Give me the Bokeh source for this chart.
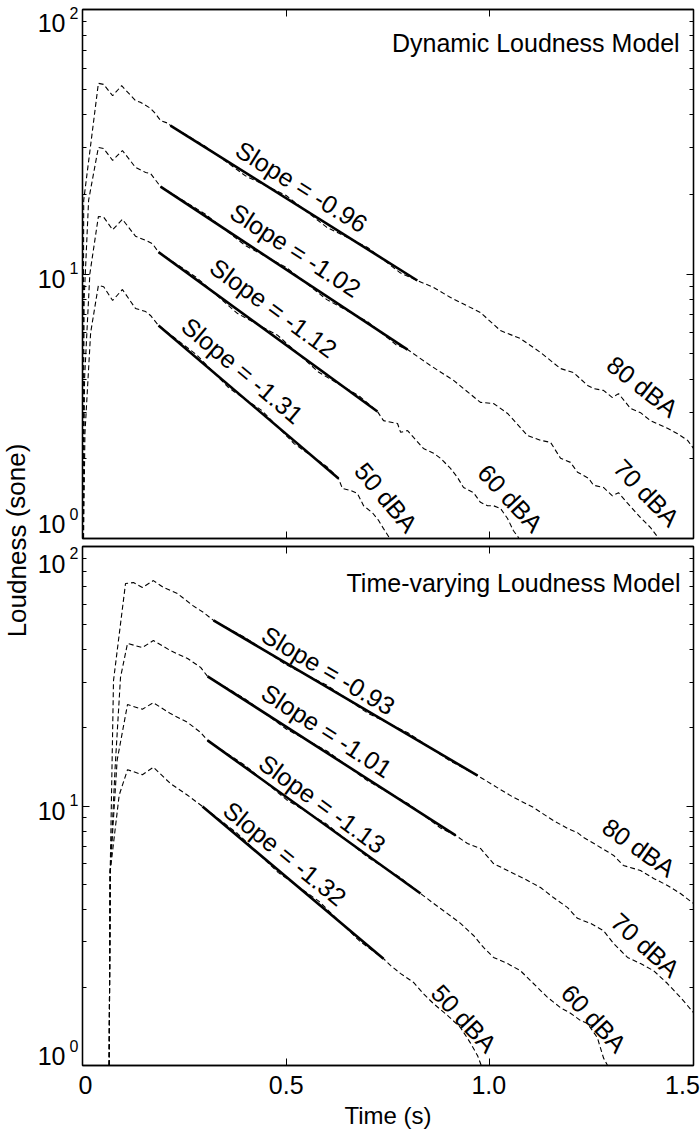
import math
from bokeh.plotting import figure
from bokeh.models import Range1d, FixedTicker, LogAxis, LinearAxis, ColumnDataSource
from bokeh.layouts import row, column
from bokeh.embed import file_html
from bokeh.resources import INLINE
from bokeh.core.properties import value

FONT = "Liberation Sans"

# ---------------- data: Dynamic Loudness Model (top) ----------------
dyn_80_t = [0.000, 0.003, 0.039, 0.052, 0.074, 0.096, 0.130, 0.142, 0.167, 0.179, 0.192, 0.211, 0.216,
            0.30, 0.40, 0.50, 0.60, 0.70, 0.78, 0.822, 0.862, 0.9035, 0.977, 1.026, 1.075, 1.1245, 1.1736,
            1.2055, 1.240, 1.2546, 1.279, 1.301, 1.316, 1.3455, 1.370, 1.3945, 1.436, 1.461, 1.4855, 1.500]
dyn_80_L = [0.5, 19, 52.6, 52.1, 47.2, 51.5, 45.3, 44.6, 42.3, 40.4, 38.0, 37.1, 36.4,
            30.5, 23.5, 19.8, 15.0, 12.6, 10.1, 9.45, 8.89, 8.15, 7.15, 6.11, 5.70, 5.05, 4.39,
            4.24, 3.79, 3.69, 3.63, 3.41, 3.53, 3.10, 2.99, 2.79, 2.61, 2.49, 2.35, 2.19]

dyn_70_t = [0.000, 0.004, 0.015, 0.039, 0.052, 0.074, 0.098, 0.130, 0.155, 0.167, 0.1915,
            0.30, 0.40, 0.50, 0.60, 0.70, 0.77, 0.798, 0.854, 0.911, 0.977, 1.009, 1.0435, 1.0926,
            1.1245, 1.149, 1.1736, 1.198, 1.2153, 1.2423, 1.2546, 1.279, 1.301, 1.316, 1.338, 1.370,
            1.3945, 1.419, 1.432]
dyn_70_L = [0.5, 8, 19, 30.1, 29.8, 26.9, 29.3, 25.3, 24.2, 24.0, 21.4,
            16.9, 12.8, 10.6, 8.0, 6.6, 5.4, 5.18, 4.51, 3.96, 3.27, 3.24, 2.97, 2.45,
            2.35, 2.31, 2.01, 1.94, 1.78, 1.69, 1.59, 1.56, 1.45, 1.49, 1.36, 1.20,
            1.10, 0.98, 0.95]

dyn_60_t = [0.000, 0.005, 0.018, 0.039, 0.052, 0.074, 0.098, 0.130, 0.160, 0.172, 0.1866,
            0.28, 0.38, 0.48, 0.58, 0.68, 0.724, 0.739, 0.7734, 0.781, 0.798, 0.8127, 0.837, 0.862,
            0.879, 0.9035, 0.9207, 0.9354, 0.960, 0.977, 0.9944, 1.009, 1.026, 1.0435, 1.058, 1.070, 1.078]
dyn_60_L = [0.5, 4, 10, 16.5, 16.4, 14.7, 16.1, 13.9, 13.3, 13.0, 12.1,
            9.7, 7.1, 5.85, 4.25, 3.45, 3.02, 2.79, 2.72, 2.52, 2.56, 2.41, 2.19, 2.10,
            2.01, 1.84, 1.70, 1.56, 1.49, 1.37, 1.33, 1.33, 1.30, 1.19, 1.07, 1.01, 0.94]

dyn_50_t = [0.000, 0.006, 0.020, 0.039, 0.052, 0.074, 0.098, 0.130, 0.155, 0.167, 0.1866,
            0.28, 0.36, 0.44, 0.52, 0.60, 0.6285, 0.638, 0.658, 0.675, 0.690, 0.712, 0.727, 0.739,
            0.751, 0.759]
dyn_50_L = [0.5, 2.5, 6, 9.05, 8.95, 7.94, 8.74, 7.41, 7.21, 6.97, 6.39,
            4.95, 3.70, 3.05, 2.28, 1.87, 1.686, 1.545, 1.52, 1.48, 1.33, 1.25, 1.17, 1.09,
            1.02, 0.97]

# regression lines (start / end)
dyn_fit_t = [[0.216, 0.822], [0.1915, 0.798], [0.1866, 0.724], [0.1866, 0.6285]]
dyn_fit_L = [[36.4, 9.45], [21.4, 5.18], [12.1, 3.02], [6.39, 1.686]]
dyn_slopes = ["Slope = -0.96", "Slope = -1.02", "Slope = -1.12", "Slope = -1.31"]
levels = ["80 dBA", "70 dBA", "60 dBA", "50 dBA"]

# ---------------- data: Time-varying Loudness Model (bottom) ----------------
tv_80_t = [0.064, 0.066, 0.068, 0.0761, 0.1056, 0.125, 0.147, 0.174, 0.199, 0.233, 0.2455, 0.270, 0.297,
           0.3216, 0.40, 0.50, 0.60, 0.70, 0.80, 0.90, 0.970, 1.0017, 1.058, 1.107, 1.156, 1.191, 1.215,
           1.230, 1.264, 1.304, 1.328, 1.370, 1.402, 1.436, 1.468, 1.500]
tv_80_L = [0.3, 1.5, 5.6, 30.4, 72.0, 72.6, 69.5, 73.9, 69.5, 65.9, 63.6, 59.3, 55.7,
           51.9, 44.5, 35.0, 29.2, 22.8, 19.1, 15.0, 13.1, 12.2, 10.8, 9.87, 8.79, 8.19, 7.90,
           7.56, 7.04, 6.45, 5.90, 5.64, 5.26, 4.94, 4.60, 4.21]

tv_70_t = [0.064, 0.066, 0.068, 0.080, 0.0933, 0.1105, 0.147, 0.174, 0.216, 0.258, 0.290, 0.307,
           0.40, 0.50, 0.60, 0.70, 0.80, 0.88, 0.916, 0.945, 0.977, 1.009, 1.0435, 1.083, 1.1245,
           1.156, 1.191, 1.215, 1.247, 1.279, 1.304, 1.338, 1.370, 1.402, 1.436, 1.468, 1.500]
tv_70_L = [0.3, 1.5, 5.6, 14, 31.3, 42.3, 40.8, 43.4, 39.7, 37.0, 34.2, 31.6,
           25.8, 19.8, 16.3, 12.5, 10.2, 8.2, 7.70, 7.17, 6.86, 6.00, 5.64, 5.26, 4.85,
           4.44, 4.06, 3.69, 3.53, 3.31, 2.95, 2.61, 2.47, 2.32, 2.07, 1.83, 1.60]

tv_60_t = [0.064, 0.066, 0.068, 0.085, 0.1105, 0.147, 0.174, 0.216, 0.258, 0.290, 0.307,
           0.40, 0.50, 0.60, 0.70, 0.78, 0.830, 0.862, 0.896, 0.928, 0.960, 0.9845, 1.009, 1.0435,
           1.075, 1.107, 1.1417, 1.1736, 1.198, 1.2227, 1.240, 1.264, 1.279, 1.289, 1.294]
tv_60_L = [0.3, 1.5, 5.6, 15, 24.6, 23.6, 25.0, 22.7, 21.0, 19.2, 17.9,
           14.3, 10.6, 8.5, 6.35, 5.3, 4.60, 4.21, 3.85, 3.53, 3.17, 2.85, 2.61, 2.47,
           2.32, 2.07, 1.83, 1.67, 1.59, 1.49, 1.45, 1.28, 1.07, 1.0, 0.94]

tv_50_t = [0.064, 0.066, 0.068, 0.090, 0.1105, 0.147, 0.174, 0.216, 0.258, 0.2946,
           0.38, 0.48, 0.58, 0.68, 0.739, 0.756, 0.781, 0.8127, 0.837, 0.862, 0.896, 0.928,
           0.9526, 0.970, 0.977, 0.982]
tv_50_L = [0.3, 1.5, 5.6, 11, 13.8, 13.2, 14.1, 12.2, 11.0, 9.96,
           7.85, 5.55, 4.3, 3.02, 2.58, 2.43, 2.26, 2.09, 1.89, 1.73, 1.56, 1.40,
           1.22, 1.09, 1.02, 0.96]

tv_fit_t = [[0.3216, 0.970], [0.307, 0.916], [0.307, 0.830], [0.2946, 0.739]]
tv_fit_L = [[51.9, 13.1], [31.6, 7.70], [17.9, 4.60], [9.96, 2.58]]
tv_slopes = ["Slope = -0.93", "Slope = -1.01", "Slope = -1.13", "Slope = -1.32"]

# axis ticks
x_ticks = [0, 0.5, 1.0, 1.5]
x_tick_labels = ["0", "0.5", "1.0", "1.5"]
y_ticks = [1, 10, 100]
y_base = ["10", "10", "10"]
y_exps = ["0", "1", "2"]
y_minor = [2, 3, 4, 5, 6, 7, 8, 9, 20, 30, 40, 50, 60, 70, 80, 90]

# ---------------- annotation placement (layout / style) ----------------
dyn_slope_pos = [(0.538, 21.4), (0.523, 12.3), (0.469, 7.44), (0.393, 4.32)]
dyn_slope_ang = [-32, -33, -36, -40]
dyn_level_pos = [(1.375, 3.76), (1.385, 1.49), (1.051, 1.42), (0.746, 1.43)]
dyn_level_ang = [-38, -46, -47, -50]
tv_slope_pos = [(0.604, 33.3), (0.600, 19.5), (0.589, 10.2), (0.497, 6.56)]
tv_slope_ang = [-30.5, -33, -36, -39]
tv_level_pos = [(1.366, 6.92), (1.382, 2.91), (1.256, 1.52), (0.937, 1.52)]
tv_level_ang = [-35, -42, -47, -47]
# upward pixel nudges of tick labels (MATLAB keeps edge labels inside the box)
dyn_base_up = [15, -5, -13.5]
dyn_exp_up = [25, 6, -3]
tv_base_up = [10, -5, -17]
tv_exp_up = [20, 6, -6]
x_lab_shift = [3, 0, -1, -11]

TXT = "25px"


def style_tick_axis(ax, log):
    ax.axis_line_color = "black"
    ax.axis_line_width = 1.3
    ax.major_tick_line_color = "black"
    ax.minor_tick_line_color = "black"
    ax.major_tick_in = 7
    ax.major_tick_out = 0
    ax.minor_tick_in = 4
    ax.minor_tick_out = 0
    ax.major_label_text_font_size = "1px"
    ax.major_label_text_alpha = 0
    ax.major_label_standoff = 0
    if log:
        ax.ticker = FixedTicker(ticks=y_ticks, minor_ticks=y_minor)
    else:
        ax.ticker = FixedTicker(ticks=x_ticks)
        ax.minor_tick_line_color = None


def label_axis(ax, ticks, labels, standoff, size=TXT):
    ax.ticker = FixedTicker(ticks=ticks)
    ax.major_label_overrides = dict(zip(ticks, labels))
    ax.axis_line_color = None
    ax.major_tick_line_color = None
    ax.minor_tick_line_color = None
    ax.major_tick_in = 0
    ax.major_tick_out = 0
    ax.minor_tick_in = 0
    ax.minor_tick_out = 0
    ax.major_label_standoff = standoff
    ax.major_label_text_font = FONT
    ax.major_label_text_font_size = size
    ax.major_label_text_color = "black"


def make_panel(curves_t, curves_L, fit_t, fit_L, slopes, slope_pos, slope_ang,
               level_pos, level_ang, title, title_pos, frame_h, top, bottom,
               base_up, exp_up, px_dec):
    p = figure(frame_width=611, frame_height=frame_h, x_range=Range1d(0, 1.5),
               y_range=Range1d(1, 100), y_axis_type="log", output_backend="svg",
               toolbar_location=None, min_border_left=48, min_border_right=7,
               min_border_top=top, min_border_bottom=bottom)
    p.xgrid.grid_line_color = None
    p.ygrid.grid_line_color = None
    p.outline_line_color = "black"
    p.outline_line_width = 1.3
    p.add_layout(LogAxis(), "right")
    p.add_layout(LinearAxis(), "above")
    for ax in p.yaxis:
        style_tick_axis(ax, True)
    for ax in p.xaxis:
        style_tick_axis(ax, False)

    # exponent labels (nearest the frame), then the "10" base labels
    ye = LogAxis()
    label_axis(ye, [v * 10 ** (s / px_dec) for v, s in zip(y_ticks, exp_up)], y_exps, 4, "16px")
    p.add_layout(ye, "left")
    yb = LogAxis()
    label_axis(yb, [v * 10 ** (s / px_dec) for v, s in zip(y_ticks, base_up)], y_base, 1)
    p.add_layout(yb, "left")

    for t, L in zip(curves_t, curves_L):
        p.line(t, L, line_color="black", line_width=1.1, line_dash="5 3")
    for t, L in zip(fit_t, fit_L):
        p.line(t, L, line_color="black", line_width=2.6)

    src = ColumnDataSource(dict(
        x=[q[0] for q in slope_pos] + [q[0] for q in level_pos],
        y=[q[1] for q in slope_pos] + [q[1] for q in level_pos],
        text=slopes + levels,
        angle=slope_ang + level_ang))
    p.text(x="x", y="y", text="text", angle="angle", angle_units="deg", source=src,
           text_font=value(FONT), text_font_size=value(TXT), text_color="black",
           text_align="center", text_baseline="middle")
    p.text(x=[title_pos[0]], y=[title_pos[1]], text=[title], text_font=value(FONT),
           text_font_size=value(TXT), text_color="black", text_align="right",
           text_baseline="middle")
    return p


p1 = make_panel([dyn_80_t, dyn_70_t, dyn_60_t, dyn_50_t], [dyn_80_L, dyn_70_L, dyn_60_L, dyn_50_L],
                dyn_fit_t, dyn_fit_L, dyn_slopes, dyn_slope_pos, dyn_slope_ang,
                dyn_level_pos, dyn_level_ang, "Dynamic Loudness Model", (1.466, 75.0),
                529, 9, 4, dyn_base_up, dyn_exp_up, 264.5)
p2 = make_panel([tv_80_t, tv_70_t, tv_60_t, tv_50_t], [tv_80_L, tv_70_L, tv_60_L, tv_50_L],
                tv_fit_t, tv_fit_L, tv_slopes, tv_slope_pos, tv_slope_ang,
                tv_level_pos, tv_level_ang, "Time-varying Loudness Model", (1.468, 72.6),
                519, 4, 58, tv_base_up, tv_exp_up, 259.5)

# x tick labels and axis title on the bottom panel
xl = LinearAxis()
label_axis(xl, [v + d / 407.3 for v, d in zip(x_ticks, x_lab_shift)], x_tick_labels, 10)
xl.axis_label = "Time (s)"
xl.axis_label_text_font = FONT
xl.axis_label_text_font_size = "24px"
xl.axis_label_text_font_style = "normal"
xl.axis_label_text_color = "black"
xl.axis_label_standoff = 5
p2.add_layout(xl, "below")

# y-axis title in a narrow strip
ylab = figure(width=34, height=1130, x_range=Range1d(0, 34), y_range=Range1d(0, 1130),
              output_backend="svg", toolbar_location=None, min_border=0)
ylab.axis.visible = False
ylab.grid.visible = False
ylab.outline_line_color = None
ylab.text(x=[16], y=[590], text=["Loudness (sone)"], angle=[math.pi / 2],
          text_font=value(FONT), text_font_size=value("26px"), text_color="black",
          text_align="center", text_baseline="middle")

layout = row(ylab, column(p1, p2, spacing=0), spacing=0)
open("out.html", "w").write(file_html(layout, INLINE))
